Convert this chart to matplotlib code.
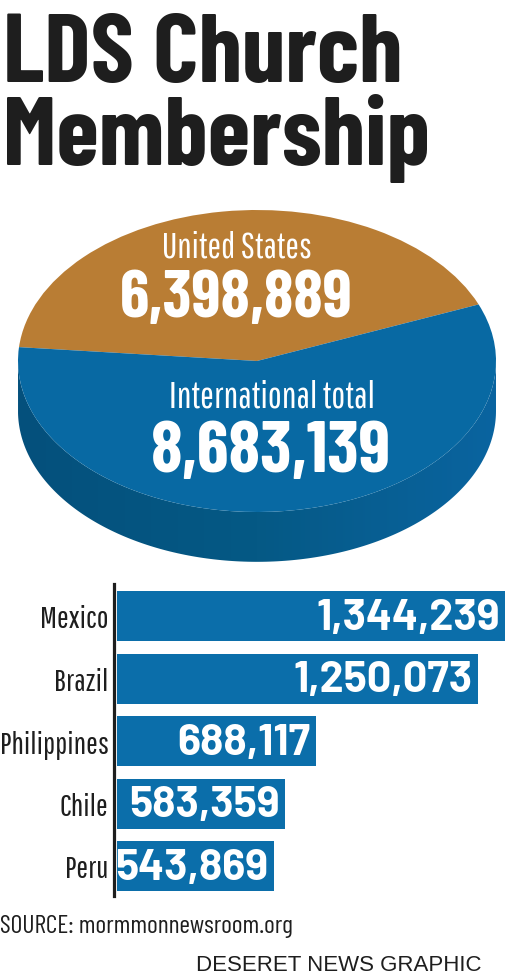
import matplotlib
matplotlib.use("Agg")
import numpy as np
import matplotlib.pyplot as plt
from matplotlib.patches import PathPatch
from matplotlib.path import Path
from matplotlib.colors import LinearSegmentedColormap

# data
pie_labels = ["United States", "International total"]
pie_values = [6398889, 8683139]
countries = ["Mexico", "Brazil", "Philippines", "Chile", "Peru"]
members = [1344239, 1250073, 688117, 583359, 543869]

BOLD = ["Barlow Condensed", "Roboto Condensed", "DejaVu Sans"]
BOLD_WIDE = ["Barlow", "Roboto", "DejaVu Sans"]
REG = ["Pathway Gothic One", "Roboto Condensed", "DejaVu Sans"]
ORANGE = "#b97d34"
BLUE = "#0869a3"
BAR_BLUE = "#0b6eaa"
INK = "#1e1e1e"

W, H = 506, 978
fig = plt.figure(figsize=(W / 100, H / 100), dpi=100)


def fx(x):
    return x / W


def fy(y):
    return 1 - y / H


# title
fig.text(fx(3), fy(82), "LDS Church", family=BOLD, weight="bold", fontsize=70,
         color=INK, va="baseline", ha="left")
fig.text(fx(3), fy(165), "Membership", family=BOLD, weight="bold", fontsize=70,
         color=INK, va="baseline", ha="left")

# pie (top face squashed by the axes aspect)
cy, ry = 362, 151
ax = fig.add_axes([fx(18), fy(cy + 1.45 * ry), fx(478), 2.5 * ry / H])
depth = 0.33
t = np.linspace(np.pi, 2 * np.pi, 200)
side = np.concatenate([np.c_[np.cos(t), np.sin(t)],
                       np.c_[np.cos(t[::-1]), np.sin(t[::-1]) - depth]])
side_patch = PathPatch(Path(side, closed=True), facecolor="none", edgecolor="none")
ax.add_patch(side_patch)
cmap = LinearSegmentedColormap.from_list("side", ["#04507c", "#055985", "#0a64a0"])
im = ax.imshow(np.linspace(0, 1, 256)[None, :], cmap=cmap, extent=(-1, 1, -1 - depth, 0),
               aspect="auto", zorder=1)
im.set_clip_path(side_patch)
ax.pie(pie_values, colors=[ORANGE, BLUE], startangle=22, counterclock=True,
       radius=1, wedgeprops=dict(linewidth=0, zorder=2))
ax.set_xlim(-1, 1)
ax.set_ylim(-1.45, 1.05)
ax.set_aspect("auto")
ax.axis("off")

fmt = "{:,}".format
fig.text(fx(237), fy(257), pie_labels[0], family=REG, fontsize=26, color="white",
         ha="center", va="baseline")
fig.text(fx(236), fy(317), fmt(pie_values[0]), family=BOLD, weight="bold", fontsize=48,
         color="white", ha="center", va="baseline")
fig.text(fx(272), fy(408), pie_labels[1], family=REG, fontsize=26.5, color="white",
         ha="center", va="baseline")
fig.text(fx(271), fy(472), fmt(pie_values[1]), family=BOLD, weight="bold", fontsize=52,
         color="white", ha="center", va="baseline")

# bars
bx = fig.add_axes([fx(117), fy(897), 1 - fx(117), 312 / H])
y = np.arange(len(countries))
bx.barh(y, members, height=0.8, color=BAR_BLUE, linewidth=0)
bx.set_xlim(0, max(members) * 1.002)
bx.set_ylim(4.48, -0.512)
for s in ["top", "right", "bottom"]:
    bx.spines[s].set_visible(False)
bx.spines["left"].set_position(("outward", 2))
bx.spines["left"].set_linewidth(2.3)
bx.spines["left"].set_color(INK)
bx.set_xticks([])
bx.set_yticks(y, countries, family=REG, fontsize=22.5, color=INK)
bx.tick_params(axis="y", length=0, pad=4)
for yi, v in zip(y, members):
    bx.annotate(fmt(v), (v, yi), xytext=(-4, -1), textcoords="offset points",
                ha="right", va="center", family=BOLD_WIDE, weight="bold", fontsize=31,
                color="white")

fig.text(fx(0), fy(933), "SOURCE: mormmonnewsroom.org", family=BOLD, fontsize=18.5,
         color=INK, ha="left", va="baseline")
fig.text(fx(482), fy(971), "DESERET NEWS GRAPHIC", family=["Liberation Sans", "DejaVu Sans"],
         fontsize=16, color=INK, ha="right", va="baseline")

fig.savefig("out.png", dpi=100)
